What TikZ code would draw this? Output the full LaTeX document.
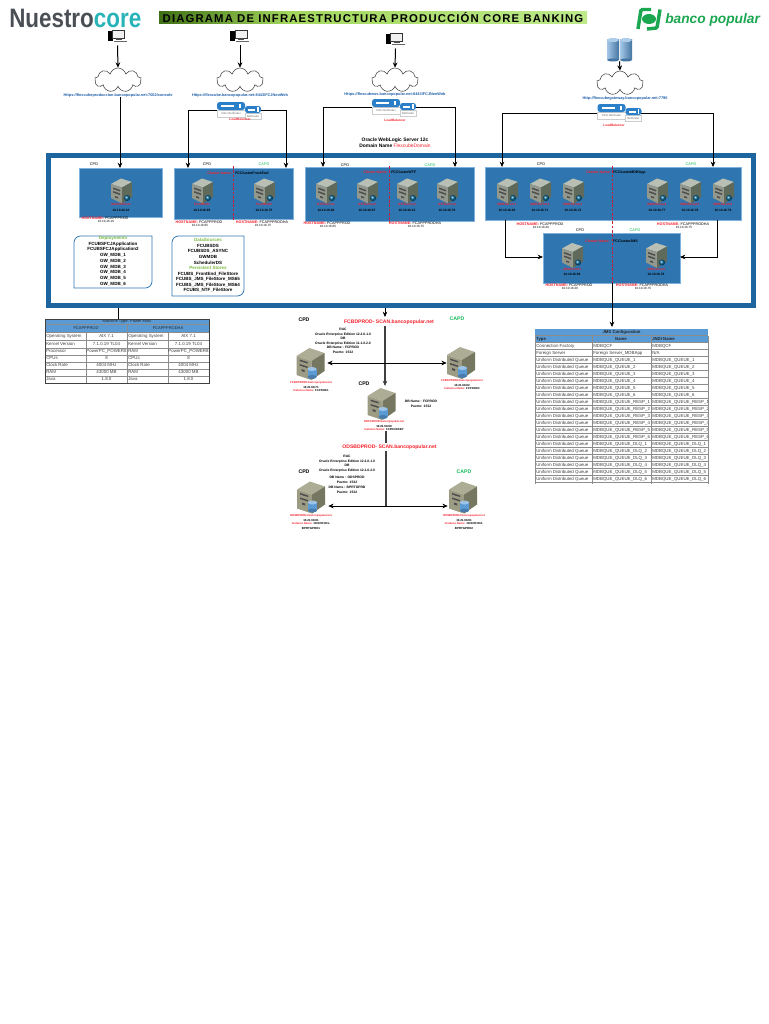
\documentclass[tikz,border=0pt]{standalone}
\usepackage{fontspec}
\setmainfont{Liberation Sans}
\usetikzlibrary{positioning, shapes.symbols, arrows.meta, fit}
\definecolor{bpframe}{HTML}{1C659F}
\definecolor{bppanel}{HTML}{2F76B1}
\definecolor{bpedge}{HTML}{7FB2DC}
\definecolor{bphead}{HTML}{5B9BD5}
\definecolor{bppill}{HTML}{2B7FC9}
\definecolor{bpurl}{HTML}{1F5FA8}
\definecolor{bpred}{HTML}{F5202A}
\definecolor{bpdash}{HTML}{C4203E}
\definecolor{bpgreen}{HTML}{14B85A}
\definecolor{bpleaf}{HTML}{7DBB42}
\definecolor{bplogo}{HTML}{1BA650}
\definecolor{bpteal}{HTML}{27B3B8}
\definecolor{bpgrey}{HTML}{4A4F55}
\definecolor{ttldark}{HTML}{3F6F14}
\definecolor{ttlmid}{HTML}{A4D75E}
\definecolor{ttllight}{HTML}{BDE98A}
\definecolor{srvtop}{HTML}{B9BFB3}
\definecolor{srvfront}{HTML}{92988B}
\definecolor{srvside}{HTML}{5F6A5A}
\definecolor{dbstop}{HTML}{ADAC95}
\definecolor{dbsfront}{HTML}{9C9C85}
\definecolor{dbsside}{HTML}{767760}
\newcommand{\fsz}[1]{\fontsize{#1}{#1}\selectfont}

\begin{document}
\begin{tikzpicture}[x=0.75pt, y=-0.75pt, inner sep=0pt,
          ar/.style={-{Stealth[length=4pt,width=3.5pt]}, line width=0.75pt, color=black},
          cn/.style={line width=0.75pt, color=black},
          pnl/.style={draw=bpedge, fill=bppanel, line width=0.5pt},
          cld/.style={cloud, cloud puffs=9, aspect=2, draw=black!75, fill=white, line width=0.4pt, minimum width=35pt, minimum height=18pt},
          urlt/.style={text=bpurl, font=\bfseries\fsz{2.9}},
          lbt/.style={text=bpred, font=\bfseries\fsz{2.4}},
          clr/.style={text=bpred, font=\bfseries\fsz{2.7}, anchor=east},
          clv/.style={text=black, font=\bfseries\fsz{2.7}, anchor=west},
          cpd/.style={text=black, font=\fsz{2.9}},
          capd/.style={text=bpgreen, font=\fsz{2.9}},
          hst/.style={text=black, font=\fsz{2.8}},
          ipt/.style={text=black, font=\bfseries\fsz{2.4}},
          srvn/.style={text=bpred, font=\bfseries\fsz{2.4}},
          crd/.style={draw=bppanel, fill=white, line width=0.6pt},
          crdh/.style={text=bpleaf, font=\bfseries\fsz{3.4}},
          crdt/.style={text=black, font=\bfseries\fsz{3.4}},
          scan/.style={text=bpred, font=\bfseries\fsz{3.8}, inner sep=1pt},
          dbc/.style={text=black, font=\bfseries\fsz{3.9}},
          dbg/.style={text=bpgreen, font=\bfseries\fsz{3.9}},
          rac/.style={text=black, font=\bfseries\fsz{2.5}},
          dbr/.style={text=bpred, font=\bfseries\fsz{2.1}},
          dbi/.style={text=black, font=\bfseries\fsz{2.2}},
          tbh/.style={text=black!85, font=\fsz{3}, text height=2.2pt, text depth=0.6pt},
          tbt/.style={text=black!75, font=\fsz{3.3}, text height=2.4pt, text depth=0.7pt},
          grd/.style={draw=black!45, line width=0.3pt},
          srv/.pic={
            \fill[srvtop] (-10,-7)--(0,-12.5)--(11,-9)--(1,-3.5)--cycle;
            \fill[srvfront] (-10,-7)--(1,-3.5)--(1,12.5)--(-10,7)--cycle;
            \fill[srvside] (1,-3.5)--(11,-9)--(11,6)--(1,12.5)--cycle;
            \fill[black!70] (-8,-3.5)--(-1,-1)--(-1,0.5)--(-8,-2)--cycle;
            \fill[black!70] (-8,0)--(-1,2.5)--(-1,4)--(-8,1.5)--cycle;
            \fill[black!70] (-6,5)--(-3,6)--(-3,7.5)--(-6,6.5)--cycle;
            \shade[ball color=blue!60!green] (6,7) circle (3);
          },
          dbsrv/.pic={
            \fill[dbstop] (-14,-8)--(-1,-16)--(14,-11)--(1,-3)--cycle;
            \fill[dbsfront] (-14,-8)--(1,-3)--(1,16)--(-14,11)--cycle;
            \fill[dbsside] (1,-3)--(14,-11)--(14,7)--(1,16)--cycle;
            \fill[black!70] (-11,-4.5)--(-3,-2)--(-3,-0.5)--(-11,-3)--cycle;
            \fill[black!70] (-11,0)--(-3,2.5)--(-3,4)--(-11,1.5)--cycle;
            \fill[black!70] (-9,5)--(-6,6)--(-6,8)--(-9,7)--cycle;
            \fill[bphead] (-3,5) rectangle (6,13);
            \fill[bphead!80!black] (1.5,13) ellipse (4.5 and 2);
            \fill[bphead!60!white] (1.5,5) ellipse (4.5 and 2);
          },
          pcico/.pic={
            \fill[black] (-10,-5) rectangle (-5,5);
            \draw[black!80, fill=black!6, line width=0.4pt] (-5,-6) rectangle (7,2);
            \fill[black!70] (-2,2) rectangle (4,4);
            \fill[black!60] (-4,4.5) rectangle (9,6);
          },
          nsc/.pic={
            \draw[black!20, fill=white, line width=0.3pt] (-22,0) rectangle (7,7);
            \draw[black!20, fill=white, line width=0.3pt] (6,3) rectangle (22,9);
            \fill[bppill, rounded corners=2pt] (-22,-8) rectangle (6,0);
            \fill[white] (-18,-5) rectangle (-5,-3);
            \fill[white] (0,-6) rectangle (2,-2);
            \fill[bppill, rounded corners=2pt] (6,-4) rectangle (22,3);
            \fill[white] (9,-1.5) rectangle (16,0.5);
            \fill[white] (18,-3) rectangle (19.5,2);
            \node[text=black!60, font=\fsz{2.1}] (nsca) at (-8,3.5) {Citrix NetScaler};
            \node[text=black!60, font=\fsz{2.1}] (nscb) at (14,6) {NetScaler};
          }]
        \useasboundingbox (0,0) rectangle (768,1024);

        \node[anchor=west, font=\bfseries\fsz{20}] (brand) at (9,18) {\scalebox{0.84}[1]{\textcolor{bpgrey}{Nuestro}\textcolor{bpteal}{core}}};
        \node[fit={(159,12)(290,24)}, left color=ttldark, right color=ttlmid] (ttlbarl) {};
        \node[fit={(290,12)(587,24)}, left color=ttlmid, right color=ttllight] (ttlbarr) {};
        \node[font=\bfseries\fsz{8.5}\addfontfeature{LetterSpace=10}, text=black] (ttl) at (373,18) {DIAGRAMA DE INFRAESTRUCTURA PRODUCCIÓN CORE BANKING};
        \draw[bplogo, line width=2.6pt, rounded corners=1pt] (651,9.5)--(641,9.5)--(638,29);
        \draw[bplogo, line width=2.6pt, rounded corners=1pt] (647,29)--(657,28)--(660,9.5);
        \fill[bplogo] (649,19) ellipse (7 and 5);
        \node[anchor=west, text=bplogo, font=\bfseries\itshape\fsz{10.3}] (bank) at (665,19.5) {banco popular};

        \node[fit={(108,30)(127,43)}] (pc1) {};
        \node[fit={(230,30)(250,43)}] (pc2) {};
        \node[fit={(386,33)(405,46)}] (pc3) {};
        \pic at (pc1) {pcico};
        \pic at (pc2) {pcico};
        \pic at (pc3) {pcico};
        \node[fit={(607,38)(632,61)}] (dbs) {};
        \foreach \cx in {613,626}
          {\shade[left color=bphead!55!white, right color=bphead!75!black] (\cx-6,40) rectangle (\cx+6,60);
           \fill[bphead!50!white] (\cx,40) ellipse (6 and 2);
           \fill[bphead!75!black] (\cx,60) ellipse (6 and 1.5);}

        \node[cld] (cl1) at (118,80) {};
        \node[cld] (cl2) at (240,80) {};
        \node[cld] (cl3) at (395,80) {};
        \node[cld] (cl4) at (620,83) {};
        \draw[ar] (pc1) ++(0,9) -- (cl1.north);
        \draw[ar] (pc2) ++(0,9) -- (cl2.north);
        \draw[ar] (pc3) ++(0,9) -- (cl3.north);
        \draw[ar] (dbs.south) -- (cl4.north);

        \node[urlt] (url1) at (118,95) {Https://flexcubeproduccion.bancopopular.net:7002/console};
        \node[urlt] (url2) at (240,96) {Https://flexcube.bancopopular.net:8443/FCJNeoWeb};
        \node[urlt] (url3) at (395,94) {Https://flexcubews.bancopopular.net:8443/FCJNeoWeb};
        \node[urlt] (url4) at (625,99) {Http://flexcubegateway.bancopopular.net:7790};

        \node[draw=bpframe, line width=3.75pt, fit={(48.5,155)(753.5,305)}] (frame) {};

        \node[fit={(217,102)(261,118)}] (lb2) {};
        \node[fit={(372,99)(416,115)}] (lb3) {};
        \node[fit={(598,105)(641,121)}] (lb4) {};
        \coordinate (in1) at (120,168);
        \coordinate (in2a) at (188,168);
        \coordinate (in2b) at (286,168);
        \coordinate (in3a) at (323,167);
        \coordinate (in3b) at (455,167);
        \coordinate (in4a) at (502,167);
        \coordinate (in4b) at (713,167);
        \draw[ar] (url1.south -| in1) -- (in1);
        \draw[ar] (lb2.west) -| (in2a);
        \draw[ar] (lb2.east) -| (in2b);
        \draw[ar] (lb3.west) -| (in3a);
        \draw[ar] (lb3.east) -| (in3b);
        \draw[ar] (lb4.west) -| (in4a);
        \draw[ar] (lb4.east) -| (in4b);
        \pic at (239,110) {nsc};
        \pic at (394,107) {nsc};
        \pic at (619.5,112) {nsc};
        \node[lbt] (lt2) at (240,119.5) {LoadBalancer};
        \node[lbt] (lt3) at (395,120) {LoadBalancer};
        \node[lbt] (lt4) at (614,125) {LoadBalancer};

        \node[font=\bfseries\fsz{3.7}, align=center] (wls) at (395,143) {Oracle WebLogic Server 12c\\[1pt]Domain Name \textcolor{bpred}{\mdseries FlexcubeDomain}};

        \node[pnl, fit={(79,168)(162,217)}] (p1) {};
        \node[pnl, fit={(174,168)(293,219)}] (p2) {};
        \node[pnl, fit={(305,167)(474,221)}] (p3) {};
        \node[pnl, fit={(485,167)(741,220)}] (p4) {};
        \node[pnl, fit={(543,233)(680,283)}] (p5) {};

        \coordinate (p2top) at (233,166);
        \coordinate (p2bot) at (233,220);
        \coordinate (p3top) at (389,166);
        \coordinate (p3bot) at (389,222);
        \coordinate (p4top) at (612,166);
        \coordinate (p5bot) at (612,283);
        \draw[bpdash, line width=0.5pt, dash pattern=on 2pt off 1.2pt] (p2top) -- (p2bot);
        \draw[bpdash, line width=0.5pt, dash pattern=on 2pt off 1.2pt] (p3top) -- (p3bot);
        \draw[bpdash, line width=0.5pt, dash pattern=on 2pt off 1.2pt] (p4top) -- (p5bot);

        \node[clr] (c2l) at (232,173) {Cluster Name:};
        \node[clv] (c2v) at (235,173) {FCClusterFrontEnd};
        \node[clr] (c3l) at (388,172) {Cluster Name:};
        \node[clv] (c3v) at (391,172) {FCClusterWTF};
        \node[clr] (c4l) at (611,172.5) {Cluster Name:};
        \node[clv] (c4v) at (613,172.5) {FCClusterMDBApp};
        \node[clr] (c5l) at (610,241) {Cluster Name:};
        \node[clv] (c5v) at (613,241) {FCClusterJMS};

        \foreach \sn/\sx/\sy/\sv/\si in {a/121/191/AdminServer/10.10.16.10,
                b/202/191/FrontEnd1/10.10.16.65, c/264/191/FrontEnd2/10.10.16.75,
                d/326/191/NTFServer1/10.10.16.66, e/367/191/NTFServer2/10.10.16.67,
                f/407/191/NTFServer3/10.10.16.13, g/447/191/NTFServer4/10.10.16.76,
                h/507/191/MDBServer1/10.10.16.20, i/540/191/MDBServer2/10.10.16.71,
                j/573/191/MDBServer3/10.10.16.72, k/657/191/MDBServer4/10.10.16.77,
                l/690/191/MDBServer5/10.10.16.78, m/723/191/MDBServer6/10.10.16.79,
                n/572/255.5/JMSServer1/10.10.16.69, o/656/255.5/JMSServer2/10.10.16.78}
          {\pic at (\sx,\sy) {srv};
           \node[srvn] (sn\sn) at (\sx,\sy+13.5) {\sv};
           \node[ipt] (si\sn) at (\sx,\sy+19) {\si};}

        \node[cpd] (l1) at (94,164) {CPD};
        \node[cpd] (l2) at (207,164) {CPD};
        \node[capd] (l3) at (264,164) {CAPD};
        \node[cpd] (l4) at (345,165) {CPD};
        \node[capd] (l5) at (430,165) {CAPD};
        \node[cpd] (l6) at (541,164) {CPD};
        \node[capd] (l7) at (691,164) {CAPD};
        \node[cpd] (l8) at (580,230) {CPD};
        \node[capd] (l9) at (635,230) {CAPD};

        \foreach \hn/\hx/\hy/\hv/\hi in {a/105/218/FCAPPPROD/10.10.16.10,
                b/199/222/FCAPPPROD/10.10.16.65, c/262/222/FCAPPPRODHA/10.10.16.75,
                d/327/223/FCAPPPROD/10.10.16.65, e/415/223/FCAPPPRODHA/10.10.16.75,
                f/540/224/FCAPPPROD/10.10.16.20, g/683/224/FCAPPPRODHA/10.10.16.75,
                h/569/285/FCAPPPROD/10.10.16.20, i/642/285/FCAPPPRODHA/10.10.16.75}
          {\node[hst] (h\hn) at (\hx,\hy) {\textcolor{bpred}{\bfseries HOSTNAME:} \hv};
           \node[hst, font=\fsz{2.3}] (hi\hn) at (\hx+1,\hy+3.7) {\hi};}

        \coordinate (p5lin) at (543,257);
        \coordinate (p5rin) at (680,257);
        \coordinate (p4lo) at (505,220);
        \coordinate (p4ro) at (717,220);
        \draw[ar] (p4lo) |- (p5lin);
        \draw[ar] (p4ro) |- (p5rin);

        \draw[crd] (74,288) [rounded corners=5pt] -- (74,236) [sharp corners] -- (152,236) [rounded corners=5pt] -- (152,288) [sharp corners] -- cycle;
        \node[crdh] (d0) at (113,238.5) {Deployments};
        \foreach \dn/\dy/\dt in {1/244/FCUBSFCJApplication, 2/249.5/FCUBSFCJApplication2, 3/255.5/GW\_MDB\_1, 4/261/GW\_MDB\_2,
                5/267/GW\_MDB\_3, 6/272.5/GW\_MDB\_4, 7/278/GW\_MDB\_5, 8/284/GW\_MDB\_6}
          {\node[crdt] (d\dn) at (113,\dy) {\dt};}
        \draw[crd] (172,296) [rounded corners=5pt] -- (172,236) [sharp corners] -- (244,236) [rounded corners=5pt] -- (244,296) [sharp corners] -- cycle;
        \node[crdh] (s0) at (208,240) {DataSources};
        \node[crdh] (s5) at (208,268) {Persistent Stores};
        \foreach \dn/\dy/\dt in {1/245.5/FCUBSDS, 2/251.5/FCUBSDS\_ASYNC, 3/257/GWMDB, 4/262.5/SchedulerDS,
                6/274/FCUBS\_FrontEnd\_FileStore, 7/279/FCUBS\_JMS\_FileStore\_MS65, 8/285/FCUBS\_JMS\_FileStore\_MS64, 9/290/FCUBS\_NTF\_FileStore}
          {\node[crdt] (s\dn) at (208,\dy) {\dt};}

        \coordinate (mtop) at (118,319);
        \draw[cn] (frame.south -| mtop) -- (mtop);
        \node[fit={(45,319)(209,332)}, fill=bphead] (mhead) {};
        \node[tbh] (mh0) at (127,321.5) {Machine Type: Power s880};
        \node[tbh] (mh1) at (86,328) {FCAPPPROD};
        \node[tbh] (mh2) at (168,328) {FCAPPPRODHA};
        \foreach \gy in {324,332,340,348,355,362,369,376}
          {\draw[grd] (45,\gy) -- (209,\gy);}
        \foreach \gx in {86,168}
          {\draw[grd] (\gx,332) -- (\gx,383);}
        \draw[grd] (127,324) -- (127,383);
        \foreach \ma/\mb/\mc/\mw/\my [count=\mi] in {Operating System/AIX 7.1/Operating System/AIX 7.1/336,
                Kernel Version/7.1.0.19 TL04/Kernel Version/7.1.0.19 TL04/344,
                Processor/PowerPC\_POWER8/RAM/PowerPC\_POWER8/351.5,
                CPUs/8/CPUs/8/358.5, Clock Rate/4004 MHz/Clock Rate/4004 MHz/365.5,
                RAM/43000 MB/RAM/43000 MB/372.5, Java/1.8.0/Java/1.8.0/379.5}
          {\node[tbt, anchor=west] (ma\mi) at (46,\my) {\ma};
           \node[tbt] (mb\mi) at (106.5,\my) {\mb};
           \node[tbt, anchor=west] (mc\mi) at (128,\my) {\mc};
           \node[tbt] (mw\mi) at (188.5,\my) {\mw};}
        \draw[black!75, line width=0.6pt] (45,319) rectangle (209,383);

        \coordinate (jtop) at (612,327);
        \draw[ar] (p5.south -| jtop) -- (jtop);
        \node[fit={(535,329)(708,342.5)}, fill=bphead] (jhead) {};
        \node[tbh, font=\bfseries\fsz{3.2}] (jh0) at (621.5,332) {JMS Configuration};
        \node[tbh, font=\bfseries\fsz{3.2}, anchor=west] (jh1) at (536,339.3) {Type};
        \node[tbh, font=\bfseries\fsz{3.2}] (jh2) at (621,339.3) {Name};
        \node[tbh, font=\bfseries\fsz{3.2}, anchor=west] (jh3) at (652,339.3) {JNDI Name};
        \node[tbt, anchor=west] (ja1) at (536,346) {Connection Factory};
        \node[tbt, anchor=west] (jb1) at (593,346) {MDBQCF};
        \node[tbt, anchor=west] (jc1) at (652,346) {MDBQCF};
        \node[tbt, anchor=west] (ja2) at (536,353) {Foreign Server};
        \node[tbt, anchor=west] (jb2) at (593,353) {Foreign Server\_MDBApp};
        \node[tbt, anchor=west] (jc2) at (652,353) {N/A};
        \foreach \qt/\qy in {/360, RESP\_/402, DLQ\_/444}
          {\foreach \qn in {1,...,6}
            {\node[tbt, anchor=west] (ja\qy\qn) at (536,\qy+7*\qn-7) {Uniform Distributed Queue};
             \node[tbt, anchor=west] (jb\qy\qn) at (593,\qy+7*\qn-7) {MDBQUE\_QUEUE\_\qt\qn};
             \node[tbt, anchor=west] (jc\qy\qn) at (652,\qy+7*\qn-7) {MDBQUE\_QUEUE\_\qt\qn};}}
        \foreach \gy in {335.5,342.5,349.5,...,483.5}
          {\draw[grd] (535,\gy) -- (708,\gy);}
        \foreach \gx in {535,591.7,650.7,708}
          {\draw[grd] (\gx,335.5) -- (\gx,483.5);}

        \node[fit={(296,347)(327,379)}] (db1) {};
        \node[fit={(447,347)(476,379)}] (db2) {};
        \node[fit={(367,388)(396,420)}] (db3) {};
        \node[fit={(296,482)(328,513)}] (db4) {};
        \node[fit={(448,482)(478,513)}] (db5) {};
        \pic at (310.5,364) {dbsrv};
        \pic at (461,363) {dbsrv};
        \pic at (381.5,404) {dbsrv};
        \pic at (311,497.5) {dbsrv};
        \pic at (463,497.5) {dbsrv};

        \node[scan] (scan1) at (389,322) {FCBDPROD- SCAN.bancopopular.net};
        \node[scan] (scan2) at (389.5,447) {ODSBDPROD- SCAN.bancopopular.net};
        \coordinate (scant) at (385,317);
        \coordinate (db3t) at (385,386);
        \coordinate (tee) at (386,506);
        \node[dbc] (k1) at (304,320) {CPD};
        \node[dbg] (k2) at (457,319) {CAPD};
        \node[dbc] (k3) at (364,384) {CPD};
        \node[dbc] (k4) at (304,472) {CPD};
        \node[dbg] (k5) at (464,472) {CAPD};

        \node[rac, align=center] (rac1) at (343,341) {RAC\\[0.9pt]Oracle Enterprise Edition 12.2.0.1.0\\[0.9pt]DB\\[0.9pt]Oracle Enterprise Edition 11.1.0.2.0\\[0.9pt]DB Name : FCPROD\\[1.2pt]Puerto: 1532};
        \node[rac, align=center] (rac2) at (421,403.5) {DB Name : FCPROD\\[1.2pt]Puerto: 1532};
        \node[rac, align=center] (rac3) at (347,474.5) {RAC\\[0.9pt]Oracle Enterprise Edition 12.2.0.1.0\\[0.9pt]DB\\[0.9pt]Oracle Enterprise Edition 12.1.0.2.0\\[2.8pt]DB Name : ODSPROD\\[1.2pt]Puerto: 1532\\[1.2pt]DB Name : BPRTGPRD\\[1.2pt]Puerto: 1532};

        \foreach \tn/\tx/\ty/\ta/\tb/\tc in {1/311/383/FCBDPROD1/10.21.68.71/FCPROD1, 2/462/381/FCBDPROD2/10.21.68.82/FCPROD2,
                3/384/422/DDFCPROD/10.21.68.90/FCPRODSBY}
          {\node[dbr] (ta\tn) at (\tx,\ty) {\ta.bancopopular.net};
           \node[dbi] (tb\tn) at (\tx,\ty+4.5) {\tb};
           \node[dbr] (tc\tn) at (\tx,\ty+8) {Instance Name: \textcolor{black}{\tc}};}
        \foreach \tn/\tx/\ta/\tb/\tc/\td in {4/311/ODSBPROD1/10.21.68.81/ODSPROD1/BPRTGPRD1, 5/464/ODSBPROD2/10.21.68.91/ODSPROD2/BPRTGPRD2}
          {\node[dbr] (ta\tn) at (\tx,516) {\ta.bancopopular.net};
           \node[dbi] (tb\tn) at (\tx,520) {\tb};
           \node[dbr] (tc\tn) at (\tx,524) {Instance Name: \textcolor{black}{\tc-}};
           \node[dbi] (td\tn) at (\tx,528) {\td};}

        \draw[ar] (frame.south -| scant) -- (scant);
        \draw[ar, color=black!75, line width=1pt] (scant |- scan1.south) -- (db3t);
        \draw[{Stealth[length=4pt,width=3.5pt]}-{Stealth[length=4pt,width=3.5pt]}, line width=0.75pt] (db1.east) -- (db2.west);
        \draw[cn, color=black!75, line width=1pt] (tee |- tc3.south) -- (tee |- scan2.north);
        \draw[cn, color=black!75, line width=1pt] (tee |- scan2.south) -- (tee);
        \draw[ar] (tee) -- (tee -| db4.east);
        \draw[ar] (tee) -- (tee -| db5.west);
      \end{tikzpicture}
\end{document}
